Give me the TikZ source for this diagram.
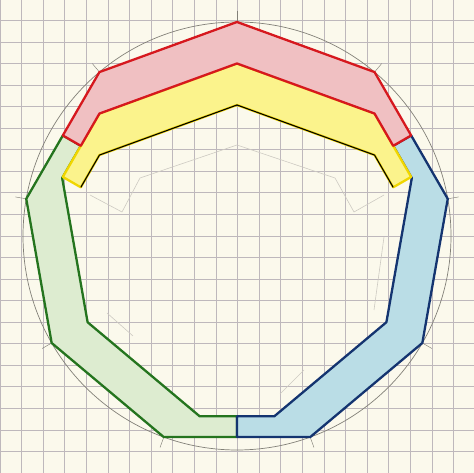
\documentclass[tikz,border=0pt]{standalone}
\usetikzlibrary{calc}
\definecolor{paper}{RGB}{251,249,236}
\definecolor{gridc}{RGB}{190,184,188}
\definecolor{pencil}{RGB}{130,128,120}
\definecolor{faint}{RGB}{205,202,194}
\definecolor{rfill}{RGB}{240,192,194}
\definecolor{rline}{RGB}{214,24,30}
\definecolor{yfill}{RGB}{251,243,140}
\definecolor{yline}{RGB}{240,214,0}
\definecolor{gfill}{RGB}{221,236,208}
\definecolor{gline}{RGB}{36,116,30}
\definecolor{bfill}{RGB}{186,221,230}
\definecolor{bline}{RGB}{20,52,112}
\tikzset{
  band/.style={line width=2.3pt, line join=round},
  faintline/.style={faint, line width=0.6pt},
  tick/.style={pencil, line width=0.45pt}
}
\begin{document}
\begin{tikzpicture}[x=1pt,y=1pt]
\useasboundingbox (0,0) rectangle (474,473);
\fill[paper] (0,0) rectangle (474,473);
\foreach \k in {0,...,22} {
  \draw[gridc, line width=0.9pt] ({21.6*\k},0) -- ({21.6*\k},473);
  \draw[gridc, line width=0.9pt] (0,{474-21.55*\k}) -- (474,{474-21.55*\k});
}
\coordinate (C) at (237,237);
\draw[pencil, line width=0.7pt] (C) circle (214);
\foreach \k in {0,...,8} {
  \coordinate (V\k) at ($(C)+({90+40*\k}:214)$);
  \draw[tick] ($(C)+({90+40*\k}:206)$) -- ($(C)+({90+40*\k}:225)$);
}
\coordinate (M1) at ($(C)+(150:201.1)$);
\coordinate (M2) at ($(C)+(30:201.1)$);
\coordinate (M3) at ($(C)+(270:201.1)$);
\coordinate (N1) at ($(C)+(150:180.35)$);
\coordinate (N2) at ($(C)+(30:180.35)$);
\coordinate (N3) at ($(C)+(270:180.35)$);
% faint pencil lines
\draw[faintline] (90,278) -- (122,261) -- (140,295) -- (237,328) -- (335,295) -- (354,261) -- (384,278);
\draw[faintline] (384,236) -- (374,163);
\draw[faintline] (107,160) -- (133,137);
\draw[faintline] (280,79) -- (304,103);
% green
\filldraw[band, fill=gfill, draw=gline] (M1) -- (V2) -- (V3) -- (V4) -- (M3) -- (N3)
  -- ($(V4)+(35.94,20.75)$) -- ($(V3)+(35.94,20.75)$) -- ($(V2)+(35.94,20.75)$) -- (N1) -- cycle;
% blue
\filldraw[band, fill=bfill, draw=bline] (M3) -- (V5) -- (V6) -- (V7) -- (M2) -- (N2)
  -- ($(V7)+(-35.94,20.75)$) -- ($(V6)+(-35.94,20.75)$) -- ($(V5)+(-35.94,20.75)$) -- (N3) -- cycle;
% yellow
\filldraw[band, fill=yfill, draw=yline] ($(M1)+(0,-41.5)$) -- ($(V1)+(0,-41.5)$) -- ($(V0)+(0,-41.5)$)
  -- ($(V8)+(0,-41.5)$) -- ($(M2)+(0,-41.5)$) -- ($(N2)+(0,-41.5)$) -- ($(V8)+(0,-83)$)
  -- ($(V0)+(0,-83)$) -- ($(V1)+(0,-83)$) -- ($(N1)+(0,-41.5)$) -- cycle;
\draw[black, line width=1.1pt, line join=round] ($(N2)+(0,-41.5)$) -- ($(V8)+(0,-83)$)
  -- ($(V0)+(0,-83)$) -- ($(V1)+(0,-83)$) -- ($(N1)+(0,-41.5)$);
% red
\filldraw[band, fill=rfill, draw=rline] (M1) -- (V1) -- (V0) -- (V8) -- (M2) -- (N2)
  -- ($(V8)+(0,-41.5)$) -- ($(V0)+(0,-41.5)$) -- ($(V1)+(0,-41.5)$) -- (N1) -- cycle;
\end{tikzpicture}
\end{document}
